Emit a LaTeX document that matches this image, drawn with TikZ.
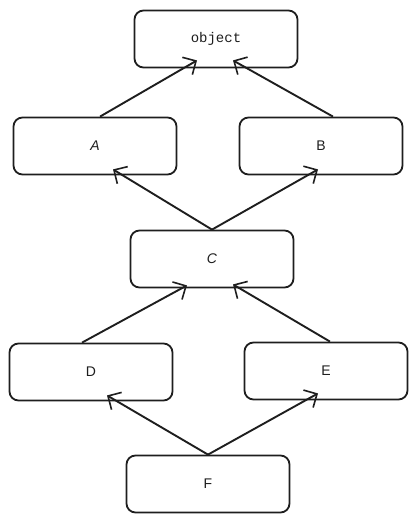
\documentclass[tikz,border=0pt]{standalone}
\usepackage{fontspec}
\setmainfont{Liberation Sans}
\newfontfamily\codefont{Liberation Mono}
\usetikzlibrary{arrows.meta}
\definecolor{ink}{HTML}{1E1E1E}
\tikzset{
  cls/.style={rectangle, rounded corners=9pt, draw=ink, line width=1.8pt, fill=white,
              minimum width=163pt, minimum height=57pt, inner sep=2pt,
              font=\fontsize{14}{16}\selectfont, text=ink},
  inherit/.style={-{Straight Barb[length=10pt, width=20pt, line width=1.6pt]}, line width=1.9pt, draw=ink},
}

\begin{document}
\begin{tikzpicture}[x=1pt, y=-1pt]
  \useasboundingbox (0,0) rectangle (418,523);
  % classes
  \node[cls, font=\codefont\fontsize{14}{16}\selectfont] (object) at (216,39) {object};
  \node[cls] (A) at (95,146) {\itshape A};
  \node[cls] (B) at (321,146) {B};
  \node[cls] (C) at (212,259) {\itshape C};
  \node[cls] (D) at (91,372) {D};
  \node[cls] (E) at (326,371) {E};
  \node[cls] (F) at (208,484) {F};
  % inheritance
  \draw[inherit] ([xshift=5pt]A.north) -- ([xshift=-19pt,yshift=8pt]object.south);
  \draw[inherit] ([xshift=12pt]B.north) -- ([xshift=17pt,yshift=8pt]object.south);
  \draw[inherit] (C.north) -- ([xshift=18pt,yshift=6pt]A.south);
  \draw[inherit] (C.north) -- ([xshift=-3pt,yshift=6pt]B.south);
  \draw[inherit] ([xshift=-9pt]D.north) -- ([xshift=-25pt,yshift=3pt]C.south);
  \draw[inherit] ([xshift=4pt]E.north) -- ([xshift=21pt,yshift=4pt]C.south);
  \draw[inherit] (F.north) -- ([xshift=16pt,yshift=6pt]D.south);
  \draw[inherit] (F.north) -- ([xshift=-8pt,yshift=7pt]E.south);
\end{tikzpicture}
\end{document}
